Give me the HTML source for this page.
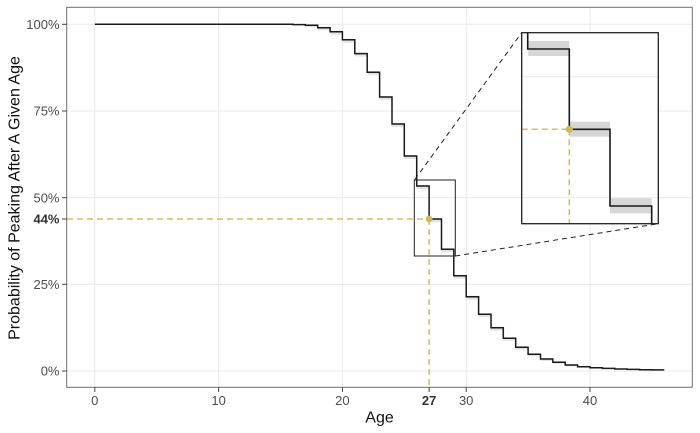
<!DOCTYPE html>
<html>
<head>
<meta charset="utf-8">
<style>
  html, body { margin: 0; padding: 0; background: #ffffff; }
  svg { display: block; }
  text { font-family: "Liberation Sans", Arial, sans-serif; }
</style>
</head>
<body>
<svg width="700" height="433" viewBox="0 0 700 433" xmlns="http://www.w3.org/2000/svg">
  <rect x="0" y="0" width="700" height="433" fill="#ffffff"/>

  <!-- gridlines -->
  <g stroke="#ebebeb" stroke-width="1.1">
    <line x1="67" y1="24.3" x2="692" y2="24.3"/>
    <line x1="67" y1="111" x2="692" y2="111"/>
    <line x1="67" y1="197.7" x2="692" y2="197.7"/>
    <line x1="67" y1="284.3" x2="692" y2="284.3"/>
    <line x1="67" y1="371" x2="692" y2="371"/>
    <line x1="94.8" y1="7.5" x2="94.8" y2="387"/>
    <line x1="218.6" y1="7.5" x2="218.6" y2="387"/>
    <line x1="342.4" y1="7.5" x2="342.4" y2="387"/>
    <line x1="466.2" y1="7.5" x2="466.2" y2="387"/>
    <line x1="590" y1="7.5" x2="590" y2="387"/>
  </g>

  <!-- confidence bands (main) -->
  <g fill="#e4e4e4">
    <rect x="305.3" y="24.3" width="12.4" height="3"/>
    <rect x="317.7" y="26.7" width="12.4" height="3.5"/>
    <rect x="330.1" y="30.7" width="12.4" height="4"/>
    <rect x="342.4" y="38.8" width="12.4" height="4"/>
    <rect x="354.8" y="52.6" width="12.4" height="4"/>
    <rect x="367.2" y="71.2" width="12.4" height="4"/>
    <rect x="379.6" y="96" width="12.4" height="4"/>
    <rect x="392" y="123" width="12.4" height="4"/>
    <rect x="404.3" y="155" width="12.4" height="4"/>
    <rect x="416.7" y="185" width="12.4" height="4"/>
    <rect x="429.1" y="218" width="12.4" height="4"/>
    <rect x="441.5" y="248.3" width="12.4" height="4"/>
    <rect x="453.8" y="274.7" width="12.4" height="4"/>
    <rect x="466.2" y="295.7" width="12.4" height="4"/>
    <rect x="478.6" y="313.3" width="12.4" height="4"/>
    <rect x="491" y="326.7" width="12.4" height="4"/>
    <rect x="503.3" y="337.3" width="12.4" height="3.5"/>
    <rect x="515.7" y="346.3" width="12.4" height="3.5"/>
    <rect x="528.1" y="353.3" width="12.4" height="3"/>
    <rect x="540.5" y="358" width="12.4" height="3"/>
    <rect x="552.8" y="361.3" width="12.4" height="2.5"/>
    <rect x="565.2" y="364" width="12.4" height="2.5"/>
  </g>

  <!-- yellow dashed guides (main) -->
  <g stroke="#cfc05c" stroke-width="1.5" stroke-dasharray="6 4" fill="none">
    <line x1="67" y1="219" x2="429.1" y2="219"/>
    <line x1="429.1" y1="219" x2="429.1" y2="387"/>
  </g>

  <!-- survival step curve -->
  <polyline fill="none" stroke="#1a1a1a" stroke-width="1.5" stroke-linejoin="miter"
    points="94.8,24.3 292.9,24.3 292.9,24.6 305.3,24.6 305.3,25.3 317.7,25.3 317.7,27.7 330.1,27.7 330.1,31.7 342.4,31.7 342.4,39.8 354.8,39.8 354.8,53.6 367.2,53.6 367.2,72.2 379.6,72.2 379.6,97 392,97 392,124 404.3,124 404.3,156 416.7,156 416.7,186 429.1,186 429.1,219 441.5,219 441.5,249.3 453.8,249.3 453.8,275.7 466.2,275.7 466.2,296.7 478.6,296.7 478.6,314.3 491,314.3 491,327.7 503.3,327.7 503.3,338.3 515.7,338.3 515.7,347.3 528.1,347.3 528.1,354.3 540.5,354.3 540.5,359 552.8,359 552.8,362.3 565.2,362.3 565.2,365 577.6,365 577.6,366.8 590,366.8 590,367.8 602.4,367.8 602.4,368.4 614.8,368.4 614.8,369 627.1,369 627.1,369.4 639.5,369.4 639.5,369.7 651.9,369.7 651.9,369.9 664.3,369.9"/>

  <!-- highlight point -->
  <circle cx="429.1" cy="219" r="3.4" fill="#cdb95a"/>

  <!-- zoom box in main -->
  <rect x="414.3" y="180" width="41" height="76" fill="none" stroke="#222" stroke-width="1"/>

  <!-- connector dashed lines -->
  <g stroke="#222" stroke-width="1" stroke-dasharray="5 4" fill="none">
    <line x1="414.8" y1="179.5" x2="521.7" y2="32.7"/>
    <line x1="455.3" y1="256" x2="658.3" y2="223.7"/>
  </g>

  <!-- inset -->
  <rect x="521.7" y="32.7" width="136.6" height="191" fill="#ffffff"/>
  <g stroke="#ebebeb" stroke-width="1.1">
    <line x1="521.7" y1="76.7" x2="658.3" y2="76.7"/>
    <line x1="521.7" y1="197.7" x2="658.3" y2="197.7"/>
  </g>
  <g fill="#d6d6d6">
    <rect x="528.3" y="41" width="41" height="15"/>
    <rect x="570" y="121.7" width="40" height="15"/>
    <rect x="610" y="198.3" width="41.7" height="15"/>
  </g>
  <g stroke="#cfc05c" stroke-width="1.5" stroke-dasharray="6 4" fill="none">
    <line x1="521.7" y1="129.3" x2="569.3" y2="129.3"/>
    <line x1="569.3" y1="129.3" x2="569.3" y2="223.7"/>
  </g>
  <polyline fill="none" stroke="#1a1a1a" stroke-width="1.6"
    points="527.7,32.7 527.7,49 569.3,49 569.3,129.3 610,129.3 610,206 651.7,206 651.7,223.7"/>
  <circle cx="569.3" cy="129.3" r="3.6" fill="#cdb95a"/>
  <rect x="521.7" y="32.7" width="136.6" height="191" fill="none" stroke="#222" stroke-width="1.3"/>

  <!-- panel border -->
  <rect x="66.7" y="7.3" width="625.6" height="380" fill="none" stroke="#6e6e6e" stroke-width="1"/>

  <!-- ticks -->
  <g stroke="#444" stroke-width="1">
    <line x1="62" y1="24.3" x2="66.7" y2="24.3"/>
    <line x1="62" y1="111" x2="66.7" y2="111"/>
    <line x1="62" y1="197.7" x2="66.7" y2="197.7"/>
    <line x1="62" y1="219" x2="66.7" y2="219"/>
    <line x1="62" y1="284.3" x2="66.7" y2="284.3"/>
    <line x1="62" y1="371" x2="66.7" y2="371"/>
    <line x1="94.8" y1="387.3" x2="94.8" y2="392"/>
    <line x1="218.6" y1="387.3" x2="218.6" y2="392"/>
    <line x1="342.4" y1="387.3" x2="342.4" y2="392"/>
    <line x1="429.1" y1="387.3" x2="429.1" y2="392"/>
    <line x1="466.2" y1="387.3" x2="466.2" y2="392"/>
    <line x1="590" y1="387.3" x2="590" y2="392"/>
  </g>

  <!-- y tick labels -->
  <g font-size="13" fill="#4d4d4d" text-anchor="end">
    <text x="59.5" y="29">100%</text>
    <text x="59.5" y="115.7">75%</text>
    <text x="59.5" y="202.4">50%</text>
    <text x="59.5" y="289">25%</text>
    <text x="59.5" y="375.7">0%</text>
  </g>
  <text x="59.5" y="223.7" font-size="13" fill="#333" font-weight="bold" text-anchor="end">44%</text>

  <!-- x tick labels -->
  <g font-size="13" fill="#4d4d4d" text-anchor="middle">
    <text x="94.8" y="405">0</text>
    <text x="218.6" y="405">10</text>
    <text x="342.4" y="405">20</text>
    <text x="466.2" y="405">30</text>
    <text x="590" y="405">40</text>
  </g>
  <text x="429.1" y="405" font-size="13" fill="#333" font-weight="bold" text-anchor="middle">27</text>

  <!-- axis titles -->
  <text x="379.5" y="422.5" font-size="16" fill="#111" text-anchor="middle">Age</text>
  <text transform="translate(19.5,198) rotate(-90)" font-size="16" fill="#111" text-anchor="middle">Probability of Peaking After A Given Age</text>
</svg>
</body>
</html>
